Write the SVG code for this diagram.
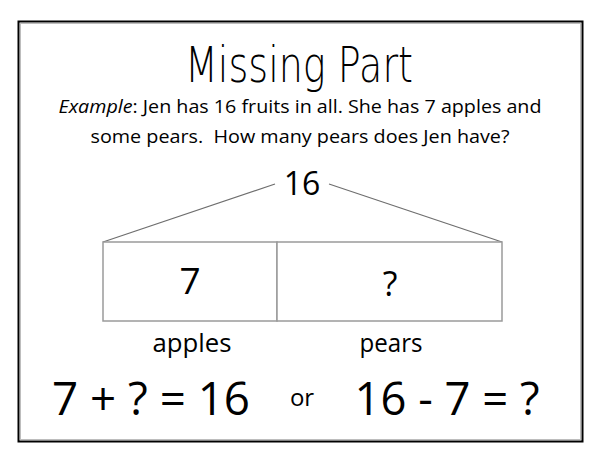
<svg xmlns="http://www.w3.org/2000/svg" width="600" height="464" viewBox="0 0 600 464">
<style>
.t{font-family:"Open Sans","Noto Sans","Liberation Sans",sans-serif;fill:#000}
.title{font-family:"DejaVu Sans","Liberation Sans",sans-serif;font-weight:200;fill:#000}
.ln{stroke:#6e6e6e;stroke-width:1.2;fill:none}
.bx{stroke:#9a9a9a;stroke-width:1.5;fill:#fff}
</style>
<rect width="600" height="464" fill="#fff"/>
<g id="frame">
<rect x="18.5" y="21.5" width="564" height="420" fill="none" stroke="#000" stroke-width="2"/>
<rect x="20.5" y="23.5" width="560" height="416" fill="none" stroke="#bdbdbd" stroke-width="1"/>
</g>
<g id="title"><text class="title" x="299" y="82" font-size="50" text-anchor="middle" textLength="228" lengthAdjust="spacingAndGlyphs">Missing Part</text></g>
<g id="example">
<text class="t" x="300" y="113" font-size="19" text-anchor="middle" textLength="483" lengthAdjust="spacingAndGlyphs"><tspan font-style="italic">Example</tspan>: Jen has 16 fruits in all. She has 7 apples and</text>
<text class="t" x="300" y="143" font-size="19" text-anchor="middle" textLength="419" lengthAdjust="spacingAndGlyphs" xml:space="preserve">some pears.  How many pears does Jen have?</text>
</g>
<g id="connectors">
<line class="ln" x1="103" y1="242" x2="275" y2="184"/>
<line class="ln" x1="329" y1="184" x2="502" y2="242"/>
</g>
<g id="whole"><text class="t" x="302" y="195" font-size="32" text-anchor="middle">16</text></g>
<g id="part-apples">
<rect class="bx" x="103" y="242" width="174" height="79"/>
<text class="t" x="190" y="294" font-size="37" text-anchor="middle">7</text>
</g>
<g id="part-pears">
<rect class="bx" x="277" y="242" width="225" height="79"/>
<text class="t" x="390" y="296" font-size="34" text-anchor="middle">?</text>
</g>
<g id="labels">
<text class="t" x="192" y="352" font-size="25" text-anchor="middle" textLength="79" lengthAdjust="spacingAndGlyphs">apples</text>
<text class="t" x="391" y="352" font-size="25" text-anchor="middle" textLength="63" lengthAdjust="spacingAndGlyphs">pears</text>
</g>
<g id="equations">
<text class="t" x="151" y="415" font-size="45" text-anchor="middle" textLength="198" lengthAdjust="spacingAndGlyphs">7 + ? = 16</text>
<text class="t" x="302" y="406" font-size="24" text-anchor="middle">or</text>
<text class="t" x="447" y="415" font-size="45" text-anchor="middle" textLength="185" lengthAdjust="spacingAndGlyphs">16 - 7 = ?</text>
</g>
</svg>
